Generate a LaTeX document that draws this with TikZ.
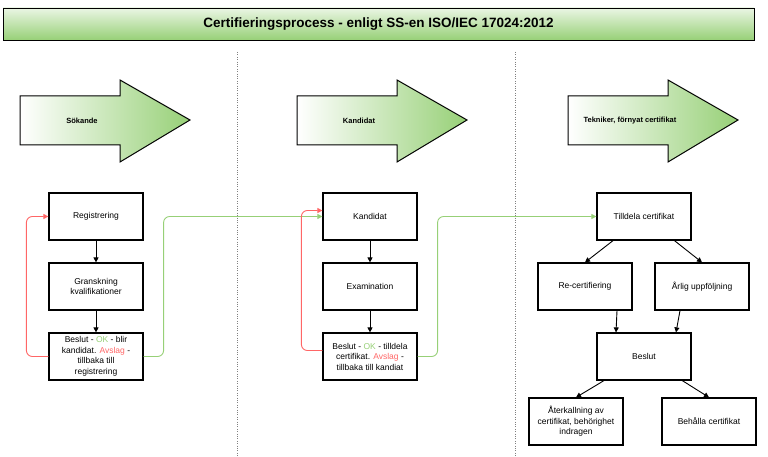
\documentclass[tikz,border=0pt]{standalone}
\usepackage{fontspec}
\setmainfont{Liberation Sans}
\usetikzlibrary{arrows.meta}
\definecolor{gr}{HTML}{97D077}
\definecolor{okc}{HTML}{97D077}
\definecolor{rd}{HTML}{FF6666}
\begin{document}
\begin{tikzpicture}[x=1pt,y=-1pt,
 box/.style={draw,line width=1.2pt,minimum width=94pt,minimum height=47pt,align=center,font=\fontsize{8.5}{10.5}\selectfont,inner sep=1pt},
 ar/.style={line width=0.9pt,-{Triangle[length=5pt,width=5pt]}},
 big/.style={draw,line width=1pt,left color=white,right color=gr}]
\useasboundingbox (0,0) rectangle (768,457);
\node[draw,line width=0.8pt,top color=gr!20,bottom color=gr,minimum width=751pt,minimum height=32pt,font=\bfseries\fontsize{13.5}{15}\selectfont] (title) at (378.5,24) {Certifieringsprocess - enligt SS-en ISO/IEC 17024:2012};
\draw[gray,dotted] (237,52) -- (237,457) (515,52) -- (515,457);
\foreach \x/\t/\n in {20/Sökande/a1,297/Kandidat/a2,568/{Tekniker, förnyat certifikat}/a3}{
 \draw[big] (\x,96) -- (\x+100,96) -- (\x+100,80) -- (\x+170,120) -- (\x+100,162) -- (\x+100,145) -- (\x,145) -- cycle;
 \node[font=\bfseries\fontsize{7.5}{9}\selectfont] (\n) at (\x+62,120.5) {\t};
}
\node[box] (reg) at (96,216.5) {Registrering};
\node[box] (gr) at (96,286.5) {Granskning\\kvalifikationer};
\node[box] (b1) at (96,356.5) {Beslut - \textcolor{okc}{OK} - blir\\kandidat. \textcolor{rd}{Avslag} -\\tillbaka till\\registrering};
\node[box] (kan) at (370,216.5) {Kandidat};
\node[box] (ex) at (370,286.5) {Examination};
\node[box] (b2) at (370,356.5) {Beslut - \textcolor{okc}{OK} - tilldela\\certifikat. \textcolor{rd}{Avslag} -\\tillbaka till kandiat};
\node[box] (til) at (644,216.5) {Tilldela certifikat};
\node[box] (rec) at (585,286.5) {Re-certifiering};
\node[box] (arl) at (702,286.5) {Årlig uppföljning};
\node[box] (b3) at (644,356.5) {Beslut};
\node[box] (ate) at (576,421.5) {Återkallning av\\certifikat, behörighet\\indragen};
\node[box] (beh) at (709,421.5) {Behålla certifikat};
\draw[ar] (reg) -- (gr); \draw[ar] (gr) -- (b1);
\draw[ar] (kan) -- (ex); \draw[ar] (ex) -- (b2);
\draw[ar] (til) -- (rec.north); \draw[ar] (til) -- (arl.north);
\draw[ar] ([xshift=32pt]rec.south) -- ([xshift=-28pt]b3.north);
\draw[ar] ([xshift=-22pt]arl.south) -- ([xshift=32pt]b3.north);
\draw[ar] (b3) -- (ate.north); \draw[ar] (b3) -- (beh.north);
\draw[ar,rd,rounded corners=6pt] (b1.west) -- ++(-22,0) |- (reg.west);
\draw[ar,gr,rounded corners=6pt] (b1.east) -- ++(20,0) |- (kan.west);
\draw[ar,rd,rounded corners=6pt] ([yshift=6pt]b2.west) -- ++(-21,0) |- ([yshift=6pt]kan.west);
\draw[ar,gr,rounded corners=6pt] (b2.east) -- ++(20,0) |- (til.west);
\end{tikzpicture}
\end{document}
